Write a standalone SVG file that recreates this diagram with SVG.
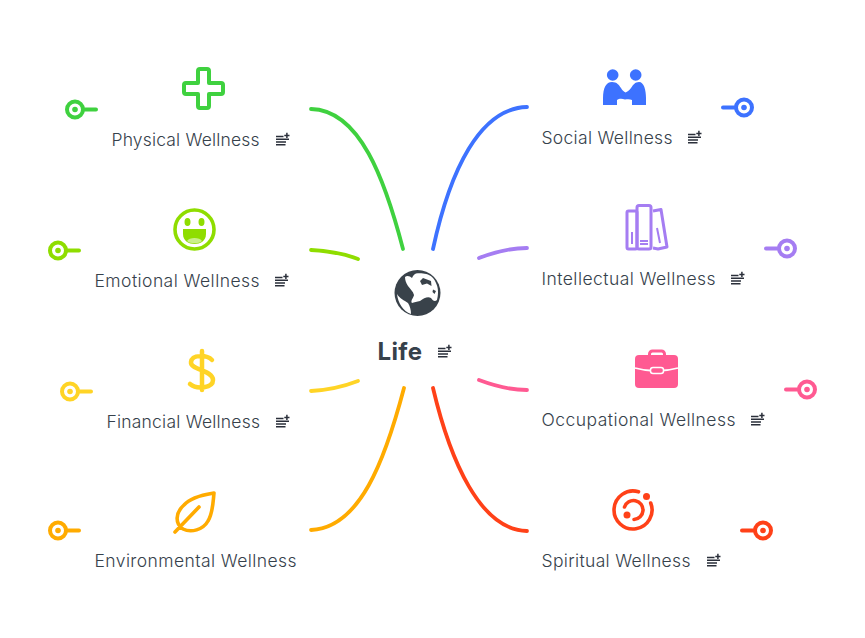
<svg xmlns="http://www.w3.org/2000/svg" width="865" height="638" viewBox="0 0 865 638">
<style>
text{font-family:"Inter","Roboto","Liberation Sans",sans-serif;font-size:17.500px;font-weight:300;fill:#36414b}
.c{fill:none;stroke-width:3.8;stroke-linecap:round}
.m{fill:none;stroke-width:4;stroke-linecap:round}
.n{stroke:#2a2f3a;stroke-width:1.5;fill:none}
</style>
<defs>
<g id="note"><path class="n" d="M0 3.600H7.500M0 6.300H13M0 9H10M0 11.700H9.500M8.300 2.400H13.500M10.900 -0.200V5"/></g>
</defs>
<rect width="865" height="638" fill="#fff"/>
<g id="connectors">
<path class="c" stroke="#3fd13f" d="M311 109C360 110 385 180 403 249"/>
<path class="c" stroke="#8fdd00" d="M311 250C330 251 345 254 358 259"/>
<path class="c" stroke="#ffd426" d="M311 391C330 390 345 386 358 381"/>
<path class="c" stroke="#ffab00" d="M311 530C360 528 385 460 404 388"/>
<path class="c" stroke="#3d72ff" d="M527 107C480 108 450 170 433 249"/>
<path class="c" stroke="#a57df2" d="M527 248C510 248 495 252 479 258"/>
<path class="c" stroke="#ff5a92" d="M527 390C510 390 495 386 479 380"/>
<path class="c" stroke="#ff4118" d="M527 531C480 530 450 460 433 388"/>
</g>
<g id="life">
<circle cx="417.500" cy="293" r="23" fill="#39424a"/>
<path fill="#fff" d="M405 277C407 275 410 276 412 278C413 276 414 274 416 273.500C420 273 428 273 432 277C436 281 438 287 438 292C438 295 437.500 298 437 300C435 302 433 301 431 298C428 296 424 298 420 301C417 302 414 302 412 303C410 301 414 297 414 295C413 291 410 289 408 286C406 283 405 280 405 277Z"/>
<path fill="#39424a" d="M423 278L431 281L431.500 286L427 283.500L422 285L420 281ZM433 289.500L436 291L434.500 294L432.500 292Z"/>
<path fill="#fff" d="M397 294C400 299 404 300 408 303C410 306 411 310 411 314C403 311 398 303 397 294Z"/>
<text x="377.500" y="359.500" textLength="44.500" style="font-size:24px;font-weight:700">Life</text>
<use href="#note" x="438" y="345"/>
</g>
<g id="physical">
<path fill="none" stroke="#3fd13f" stroke-width="4" stroke-linejoin="round" d="M198 71a2 2 0 0 1 2-2h7a2 2 0 0 1 2 2v12h12a2 2 0 0 1 2 2v7a2 2 0 0 1-2 2h-12v12a2 2 0 0 1-2 2h-7a2 2 0 0 1-2-2v-12h-12a2 2 0 0 1-2-2v-7a2 2 0 0 1 2-2h12z"/>
<text x="111.500" y="145.500" textLength="148">Physical Wellness</text>
<use href="#note" x="276" y="133"/>
<g stroke="#3fd13f"><circle class="m" cx="75" cy="109.500" r="8"/><path class="m" d="M84 109.500H96"/><circle cx="75" cy="109.500" r="2.800" fill="#3fd13f" stroke="none"/></g>
</g>
<g id="emotional">
<circle cx="194.500" cy="229.500" r="19.500" fill="none" stroke="#8fdd00" stroke-width="3.600"/>
<ellipse cx="187.500" cy="222" rx="3" ry="4" fill="#8fdd00"/><ellipse cx="201.500" cy="222" rx="3" ry="4" fill="#8fdd00"/>
<path fill="#8fdd00" d="M183 229H206V234C206 241 200 244 194.500 244C189 244 183 241 183 234Z"/>
<path fill="#c9ef8a" d="M187 241C189 237 200 237 202 241C199 244 190 244 187 241Z"/>
<text x="94.500" y="286.500" textLength="165">Emotional Wellness</text>
<use href="#note" x="275" y="274"/>
<g stroke="#8fdd00"><circle class="m" cx="58" cy="250.500" r="8"/><path class="m" d="M67 250.500H79"/><circle cx="58" cy="250.500" r="2.800" fill="#8fdd00" stroke="none"/></g>
</g>
<g id="financial">
<path fill="none" stroke="#ffd426" stroke-width="4.500" stroke-linecap="round" d="M212 360C207 355 192 354 191 362C190 370 213 370 213 380C213 388 197 390 190 384M202 351V390"/>
<text x="106.500" y="427.500" textLength="153.500">Financial Wellness</text>
<use href="#note" x="276" y="415"/>
<g stroke="#ffd426"><circle class="m" cx="70" cy="391.500" r="8"/><path class="m" d="M79 391.500H91"/><circle cx="70" cy="391.500" r="2.800" fill="#ffd426" stroke="none"/></g>
</g>
<g id="environmental">
<path fill="none" stroke="#ffab00" stroke-width="3.600" stroke-linecap="round" stroke-linejoin="round" d="M214 493C208 494 192 496 184 505C175 513 175 524 183 529C191 533 203 530 208 521C213 513 213 502 214 493ZM175 532L199 507"/>
<text x="94.500" y="566.500" textLength="202">Environmental Wellness</text>
<g stroke="#ffab00"><circle class="m" cx="58" cy="530.500" r="8"/><path class="m" d="M67 530.500H79"/><circle cx="58" cy="530.500" r="2.800" fill="#ffab00" stroke="none"/></g>
</g>
<g id="social">
<circle cx="612.700" cy="75" r="5.800" fill="#3d72ff"/><circle cx="635.700" cy="75" r="5.800" fill="#3d72ff"/>
<path fill="#3d72ff" d="M603 105L603 98C603 88 606 82 612 82C617 82 619 85 621 88C622 90 624 92 625.500 92.500C627.500 92 629.500 90 631 88C633 85 635 82 639 82C644 82 646 90 646 98L646 105L632 105L632 100C630 99 628 99 625 99.500C622 98.500 619 98.500 617 100L617 105Z"/>
<text x="541.500" y="143.500" textLength="131">Social Wellness</text>
<use href="#note" x="688" y="131"/>
<g stroke="#3d72ff"><circle class="m" cx="744" cy="107.500" r="8"/><path class="m" d="M735 107.500H723"/><circle cx="744" cy="107.500" r="2.800" fill="#3d72ff" stroke="none"/></g>
</g>
<g id="intellectual">
<g fill="none" stroke="#a57df2" stroke-width="3" stroke-linejoin="round">
<rect x="627" y="211" width="10" height="38" rx="1.500"/>
<rect x="637" y="205.500" width="14" height="43.500" rx="2"/>
<path d="M653 211L661 209.500L667 247L658 249L653 248"/>
<path stroke-width="2" d="M632 232V244M640 241H648M640 244H648M657 228L660 243"/>
</g>
<text x="541.500" y="284.500" textLength="174">Intellectual Wellness</text>
<use href="#note" x="731" y="272"/>
<g stroke="#a57df2"><circle class="m" cx="787" cy="248.500" r="8"/><path class="m" d="M778 248.500H766"/><circle cx="787" cy="248.500" r="2.800" fill="#a57df2" stroke="none"/></g>
</g>
<g id="occupational">
<rect x="635" y="355" width="43" height="33" rx="4" fill="#ff5a92"/>
<rect x="649.500" y="351" width="15" height="8" rx="3" fill="none" stroke="#ff5a92" stroke-width="3"/>
<path fill="none" stroke="#fff" stroke-width="1.800" d="M635 368C642 370 650 371 656 371C664 371 671 370 678 368"/>
<rect x="650.500" y="367.500" width="13" height="6" rx="2.500" fill="#ff5a92" stroke="#fff" stroke-width="1.500"/>
<text x="541.500" y="425.500" textLength="194">Occupational Wellness</text>
<use href="#note" x="751" y="413"/>
<g stroke="#ff5a92"><circle class="m" cx="807" cy="389.500" r="8"/><path class="m" d="M798 389.500H786"/><circle cx="807" cy="389.500" r="2.800" fill="#ff5a92" stroke="none"/></g>
</g>
<g id="spiritual">
<g fill="none" stroke="#ff4118" stroke-width="3.600" stroke-linecap="round">
<path d="M638.500 491.800A19 19 0 1 0 650.700 503"/>
<path d="M624.500 507A9.500 9.500 0 1 1 634 519.500"/>
</g>
<circle cx="646.500" cy="496.500" r="3.500" fill="#ff4118"/><circle cx="627" cy="515" r="3.500" fill="#ff4118"/>
<text x="541.500" y="566.500" textLength="149">Spiritual Wellness</text>
<use href="#note" x="707" y="554"/>
<g stroke="#ff4118"><circle class="m" cx="763" cy="530.500" r="8"/><path class="m" d="M754 530.500H742"/><circle cx="763" cy="530.500" r="2.800" fill="#ff4118" stroke="none"/></g>
</g>
</svg>
